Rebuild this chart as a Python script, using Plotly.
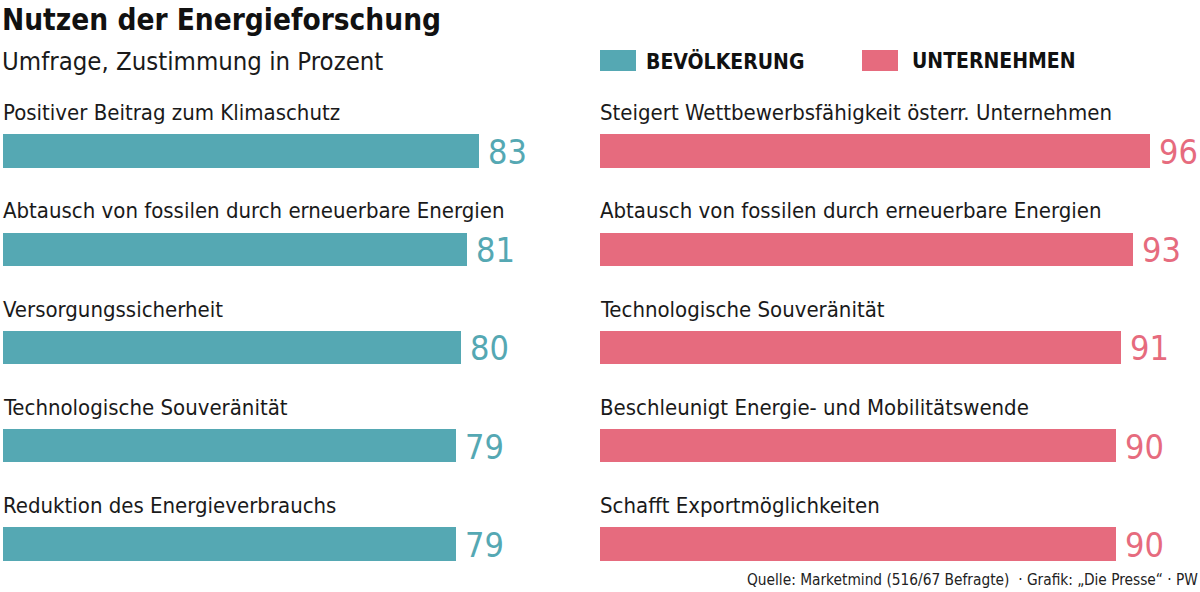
import plotly.graph_objects as go

# ---------- data ----------
title = "Nutzen der Energieforschung"
subtitle = "Umfrage, Zustimmung in Prozent"
source = "Quelle: Marketmind (516/67 Befragte)  · Grafik: „Die Presse“ · PW"

left_name = "BEVÖLKERUNG"
left_labels = [
    "Positiver Beitrag zum Klimaschutz",
    "Abtausch von fossilen durch erneuerbare Energien",
    "Versorgungssicherheit",
    "Technologische Souveränität",
    "Reduktion des Energieverbrauchs",
]
left_values = [83, 81, 80, 79, 79]

right_name = "UNTERNEHMEN"
right_labels = [
    "Steigert Wettbewerbsfähigkeit österr. Unternehmen",
    "Abtausch von fossilen durch erneuerbare Energien",
    "Technologische Souveränität",
    "Beschleunigt Energie- und Mobilitätswende",
    "Schafft Exportmöglichkeiten",
]
right_values = [96, 93, 91, 90, 90]

# ---------- style ----------
TEAL = "#55A8B3"
PINK = "#E66B7E"
FONT = "DejaVu Sans Condensed, Liberation Sans Narrow, DejaVu Sans, sans-serif"
W, H = 1200, 592

pos = list(range(len(left_values)))

fig = go.Figure()

fig.add_trace(go.Bar(
    x=left_values, y=pos, orientation="h", marker_color=TEAL,
    marker_line_width=0, width=0.34, xaxis="x", yaxis="y",
    hoverinfo="skip", showlegend=False,
))
fig.add_trace(go.Bar(
    x=right_values, y=pos, orientation="h", marker_color=PINK,
    marker_line_width=0, width=0.34, xaxis="x2", yaxis="y",
    hoverinfo="skip", showlegend=False,
))

annotations = []
for xa, labels, values, color in [("x", left_labels, left_values, TEAL),
                                  ("x2", right_labels, right_values, PINK)]:
    for i, (lab, v) in enumerate(zip(labels, values)):
        annotations.append(dict(
            x=0, y=i - 0.39, xref=xa, yref="y", text=lab, showarrow=False,
            xanchor="left", yanchor="middle", xshift=-2,
            font=dict(family=FONT, size=22, color="#1a1a1a"),
        ))
        annotations.append(dict(
            x=v, y=i + 0.01, xref=xa, yref="y", text=str(v), showarrow=False,
            xanchor="left", yanchor="middle", xshift=7,
            font=dict(family=FONT, size=34, color=color),
        ))

# title block
annotations += [
    dict(x=0, y=1 - 20 / H, xref="paper", yref="paper", text="<b>" + title + "</b>",
         showarrow=False, xanchor="left", yanchor="middle",
         font=dict(family=FONT, size=29.5, color="#111111")),
    dict(x=0, y=1 - 61 / H, xref="paper", yref="paper", text=subtitle,
         showarrow=False, xanchor="left", yanchor="middle",
         font=dict(family=FONT, size=25.5, color="#1a1a1a")),
    dict(x=1, y=1 - 580 / H, xref="paper", yref="paper", text=source,
         showarrow=False, xanchor="right", yanchor="middle",
         font=dict(family=FONT, size=15.3, color="#222222")),
    dict(x=644 / W, y=1 - 61 / H, xref="paper", yref="paper", text="<b>" + left_name + "</b>",
         showarrow=False, xanchor="left", yanchor="middle",
         font=dict(family=FONT, size=21, color="#111111")),
    dict(x=910 / W, y=1 - 61 / H, xref="paper", yref="paper", text="<b>" + right_name + "</b>",
         showarrow=False, xanchor="left", yanchor="middle",
         font=dict(family=FONT, size=21, color="#111111")),
]

shapes = [
    dict(type="rect", xref="paper", yref="paper", x0=600 / W, x1=636 / W,
         y0=1 - 71 / H, y1=1 - 50 / H, fillcolor=TEAL, line_width=0),
    dict(type="rect", xref="paper", yref="paper", x0=862 / W, x1=898 / W,
         y0=1 - 71 / H, y1=1 - 50 / H, fillcolor=PINK, line_width=0),
]

# y positions: bar 0 centred at 151px, step ~98.25px
step = 98.25
y_top = -151 / step
y_bot = (len(pos) - 1) + (H - (151 + step * (len(pos) - 1))) / step

fig.update_layout(
    width=W, height=H,
    margin=dict(l=0, r=0, t=0, b=0),
    paper_bgcolor="white", plot_bgcolor="white",
    font=dict(family=FONT),
    xaxis=dict(domain=[3 / W, 576 / W], range=[0, 100], visible=False, fixedrange=True),
    xaxis2=dict(domain=[600 / W, 1173 / W], range=[0, 100], visible=False, fixedrange=True),
    yaxis=dict(range=[y_bot, y_top], visible=False, fixedrange=True),
    annotations=annotations,
    shapes=shapes,
    bargap=0,
)

fig.write_html("out.html", config={"displayModeBar": False},
               post_script="document.body.style.margin='0';")
